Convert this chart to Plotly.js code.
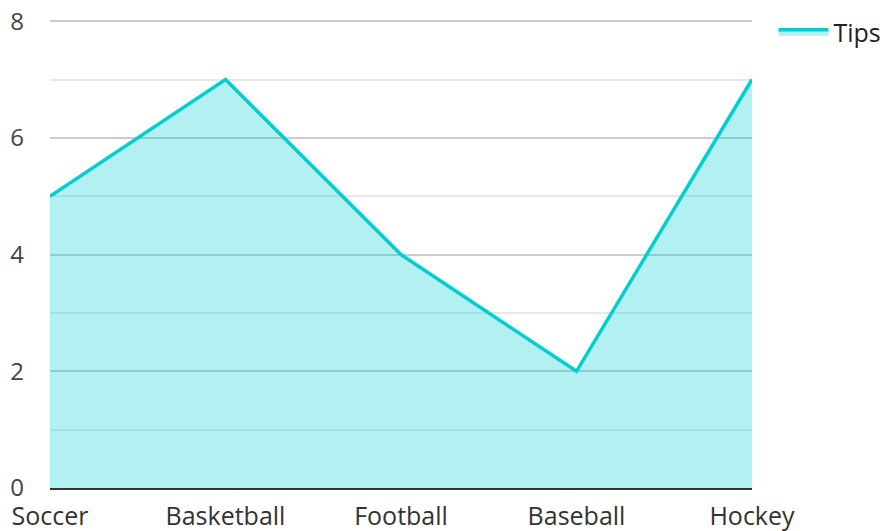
<!DOCTYPE html>
<html><head><meta charset="utf-8">
<script src="https://cdn.plot.ly/plotly-3.0.1.min.js"></script>
<style>html,body{margin:0;padding:0;background:#fff}#chart{width:885px;height:531px}</style>
</head><body><div id="chart"></div>
<script>
const categories = ["Soccer", "Basketball", "Football", "Baseball", "Hockey"];
const tips = [5, 7, 4, 2, 7];
const yTicks = [0, 2, 4, 6, 8];

const trace = {
  x: categories, y: tips, name: "Tips", type: "scatter", mode: "lines",
  fill: "tozeroy", fillcolor: "rgba(0,206,209,0.3)",
  line: {color: "#00CED1", width: 3.5}
};
const layout = {
  width: 885, height: 531,
  margin: {l: 50, r: 133, t: 20, b: 43},
  font: {family: "Open Sans, sans-serif", size: 25, color: "#333"},
  paper_bgcolor: "#fff", plot_bgcolor: "#fff",
  showlegend: true,
  legend: {xref: "container", yref: "container", x: 0.874, xanchor: "left", y: 0.983, yanchor: "top",
    itemwidth: 50, font: {size: 25, color: "#222"}, bgcolor: "rgba(0,0,0,0)"},
  xaxis: {type: "category", range: [0, 4], showgrid: false, zeroline: false, automargin: false,
    showline: true, linecolor: "#333", linewidth: 2, ticks: "", ticklabelstandoff: 5,
    tickfont: {size: 25, color: "#333"}},
  yaxis: {range: [0, 8.02], tickvals: yTicks, showgrid: true, gridcolor: "#cccccc", gridwidth: 1.5,
    zeroline: false, automargin: false, ticks: "", ticklabelstandoff: 25, tickfont: {size: 24, color: "#444"},
    minor: {dtick: 1, showgrid: true, gridcolor: "#e8e8e8", gridwidth: 1.5}}
};
Plotly.newPlot("chart", [trace], layout, {displayModeBar: false});
</script></body></html>
